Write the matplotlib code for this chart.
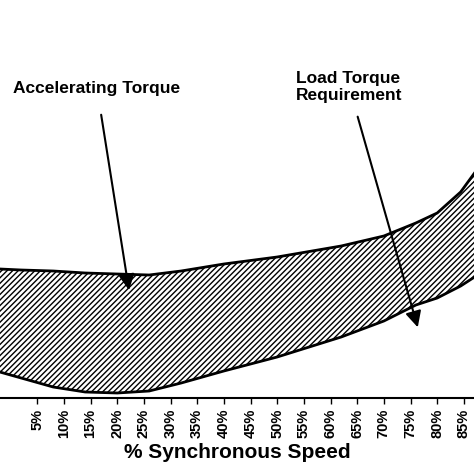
import matplotlib
matplotlib.use('Agg')
import matplotlib.pyplot as plt

# speed (%) and curve heights (arbitrary torque units)
speed = [-2, 2, 8, 14, 20, 26, 32, 40, 50, 62, 70, 76, 80, 84.4, 87]
motor_torque = [129, 128, 127, 125, 124, 123, 127, 134, 141, 152, 162, 175, 185, 206, 225]
load_torque = [26, 20, 11, 6, 5, 7, 15, 27, 41, 61, 77, 93, 100, 112, 121]

ticks = list(range(5, 90, 5))
tick_labels = [str(t) + "%" for t in ticks]

plt.rcParams['font.family'] = ['Liberation Sans', 'DejaVu Sans']
plt.rcParams['font.weight'] = 'bold'
plt.rcParams['hatch.linewidth'] = 1.0

fig = plt.figure(figsize=(4.74, 4.74), dpi=100)
ax = fig.add_axes([0, 76/474, 1, 398/474])

ax.fill_between(speed, load_torque, motor_torque, facecolor='white', edgecolor='black', hatch='//////', linewidth=0)
ax.plot(speed, motor_torque, color='black', lw=2)
ax.plot(speed, load_torque, color='black', lw=2)

ax.set_xlim(-1.97, 86.9)
ax.set_ylim(0, 398)

ax.set_xticks(ticks)
ax.set_xticklabels(tick_labels, rotation=90, fontsize=10.5, fontweight='bold', ha='center')
ax.set_yticks([])
for s in ['top', 'left', 'right']:
    ax.spines[s].set_visible(False)
ax.spines['bottom'].set_linewidth(1.5)
ax.tick_params(axis='x', length=4, width=1)
ax.set_xlabel("% Synchronous Speed", fontsize=15, fontweight='bold', labelpad=4)

ax.annotate("Accelerating Torque", xy=(22.3, 105), xytext=(16.2, 310),
            ha='center', va='center', fontsize=12.5, fontweight='bold',
            arrowprops=dict(arrowstyle='-|>', color='black', lw=1.5, mutation_scale=24, shrinkA=12))
ax.annotate("Load Torque\nRequirement", xy=(76.5, 68), xytext=(63.5, 311),
            ha='center', va='center', fontsize=12.5, fontweight='bold', multialignment='left',
            arrowprops=dict(arrowstyle='-|>', color='black', lw=1.5, mutation_scale=24, shrinkA=8))

plt.savefig("out.png", dpi=100)
